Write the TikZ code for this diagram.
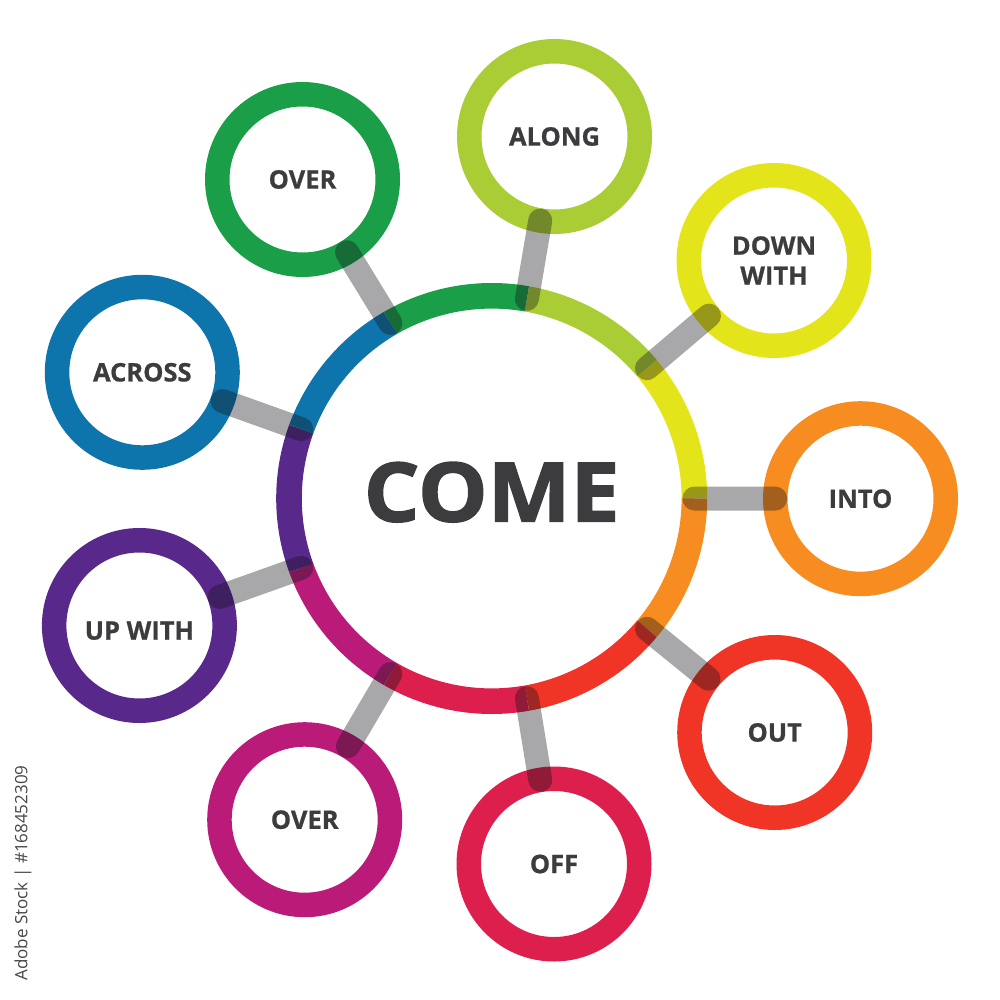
\documentclass[tikz,border=0pt]{standalone}
\usepackage{fontspec}
\setmainfont{Open Sans}
\newfontfamily\heavyfont{Open Sans}[FakeBold=1.8, FakeStretch=1.07]
\newfontfamily\labelfont{Open Sans}[FakeBold=0.8]
\definecolor{cOver}{HTML}{1A9E48}
\definecolor{cAlong}{HTML}{AACC35}
\definecolor{cDown}{HTML}{E4E41A}
\definecolor{cInto}{HTML}{F78C20}
\definecolor{cOut}{HTML}{F03526}
\definecolor{cOff}{HTML}{DD1F4D}
\definecolor{cOverB}{HTML}{BA1B78}
\definecolor{cUp}{HTML}{58288A}
\definecolor{cAcross}{HTML}{0E74AC}
\definecolor{txt}{HTML}{3C3C3E}
\definecolor{connc}{RGB}{20,20,25}
\begin{document}
\begin{tikzpicture}[x=1pt,y=1pt,
  ring/.style={circle, draw=#1, line width=24.5pt, minimum size=170.5pt, inner sep=0pt, outer sep=0pt,
    font=\labelfont\bfseries\fontsize{25.5}{30}\selectfont, text=txt, align=center},
  seg/.style={line width=25.6pt, line cap=butt},
  conn/.style={draw=connc, draw opacity=0.37, line width=24pt, line cap=round}]
\useasboundingbox (0,0) rectangle (1000,-1000);
% central node
\node[circle, minimum size=405.4pt, inner sep=0pt, outer sep=0pt, text height=60pt, text depth=14pt,
  font=\heavyfont\bfseries\fontsize{82}{90}\selectfont, text=txt] (come) at (491.7,-498.5) {COME};
% coloured segments of the central ring
\foreach \a/\c in {120/cOver, 80/cAlong, 40/cDown, 0/cInto, -40/cOut, -80/cOff, -120/cOverB, -160/cUp, 160/cAcross}
  \draw[seg, draw=\c] ([shift={(\a:202.7pt)}]come.center) arc[start angle=\a, end angle=\a-40, radius=202.7pt];
% outer circles
\node[ring=cOver]   (over)   at (302.5,-179.5) {OVER};
\node[ring=cAlong]  (along)  at (554.5,-136.5) {ALONG};
\node[ring=cDown]   (down)   at (774.0,-260.5) {DOWN\\WITH};
\node[ring=cInto]   (into)   at (860.5,-498.7) {INTO};
\node[ring=cOut]    (out)    at (774.7,-732.5) {OUT};
\node[ring=cOff]    (off)    at (554.0,-864.0) {OFF};
\node[ring=cOverB]  (overb)  at (304.7,-819.7) {OVER};
\node[ring=cUp, text height=28.3pt, text depth=0pt] (upwith) at (139.4,-625.5) {UP WITH};
\node[ring=cAcross] (across) at (142.3,-372.3) {ACROSS};
% connectors
\draw[conn] (come.120)  -- (over);
\draw[conn] (come.80)   -- (along);
\draw[conn] (come.40)   -- (down);
\draw[conn] (come.0)    -- (into);
\draw[conn] (come.-40)  -- (out);
\draw[conn] (come.-80)  -- (off);
\draw[conn] (come.-120) -- (overb);
\draw[conn] (come.-160) -- (upwith);
\draw[conn] (come.160)  -- (across);
% side credit
\node[rotate=90, font=\fontsize{17}{19}\selectfont, text=black!72] (credit) at (23,-873) {Adobe Stock | \#168452309};
\end{tikzpicture}
\end{document}
